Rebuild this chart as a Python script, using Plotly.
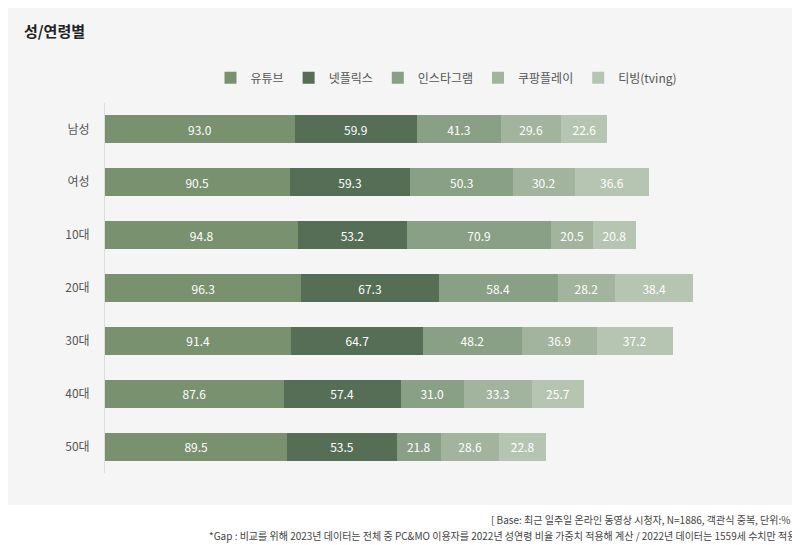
import plotly.graph_objects as go

categories = ["남성", "여성", "10대", "20대", "30대", "40대", "50대"]
series_names = ["유튜브", "넷플릭스", "인스타그램", "쿠팡플레이", "티빙(tving)"]
youtube = [93.0, 90.5, 94.8, 96.3, 91.4, 87.6, 89.5]
netflix = [59.9, 59.3, 53.2, 67.3, 64.7, 57.4, 53.5]
instagram = [41.3, 50.3, 70.9, 58.4, 48.2, 31.0, 21.8]
coupang = [29.6, 30.2, 20.5, 28.2, 36.9, 33.3, 28.6]
tving = [22.6, 36.6, 20.8, 38.4, 37.2, 25.7, 22.8]
colors = ["#7a9170", "#566e56", "#8aa086", "#a2b49d", "#b6c5b1"]

fig = go.Figure()
for name, vals, c in zip(series_names, [youtube, netflix, instagram, coupang, tving], colors):
    fig.add_trace(go.Bar(y=categories, x=vals, name=name, orientation="h",
                         marker=dict(color=c, line=dict(width=0)),
                         text=[f"{v:.1f}" for v in vals], textposition="inside",
                         insidetextanchor="middle",
                         textfont=dict(color="white", size=12, family="Noto Sans CJK KR")))

fig.update_layout(
    width=800, height=545, barmode="stack", bargap=0.47,
    paper_bgcolor="#f5f5f5", plot_bgcolor="#f5f5f5",
    margin=dict(l=97, r=20, t=95, b=80, autoexpand=False),
    font=dict(family="Noto Sans CJK KR", color="#555", size=12),
    xaxis=dict(range=[0, 335], visible=False, automargin=False),
    yaxis=dict(autorange="reversed", showline=True, linecolor="#dddddd", linewidth=1,
               ticks="", ticklabelstandoff=12, automargin=False, tickfont=dict(size=12, color="#555")),
    legend=dict(orientation="h", x=0.5, xanchor="center", y=1.068, yanchor="middle",
                font=dict(size=12, color="#555"), traceorder="normal", itemwidth=30),
    uniformtext=dict(mode="show", minsize=8),
    shapes=[dict(type="rect", xref="paper", yref="paper", x0=-0.2, x1=1.1, y0=-0.4, y1=-0.0865,
                 fillcolor="white", line=dict(width=0), layer="below")],
    annotations=[
        dict(text="<b>성/연령별</b>", xref="paper", yref="paper", x=-0.1215, y=1.197,
             xanchor="left", yanchor="middle", showarrow=False, font=dict(size=15, color="#222")),
        dict(text="[ Base: 최근 일주일 온라인 동영상 시청자, N=1886, 객관식 중복, 단위:% ]",
             xref="paper", yref="paper", x=1.0146, y=-0.127, xanchor="right", yanchor="middle",
             showarrow=False, font=dict(size=10, color="#444")),
        dict(text="*Gap : 비교를 위해 2023년 데이터는 전체 중 PC&MO 이용자를 2022년 성연령 비율 가중치 적용해 계산 / 2022년 데이터는 1559세 수치만 적용",
             xref="paper", yref="paper", x=1.0146, y=-0.168, xanchor="right", yanchor="middle",
             showarrow=False, font=dict(size=10, color="#444")),
    ],
)
fig.write_html("out.html")
